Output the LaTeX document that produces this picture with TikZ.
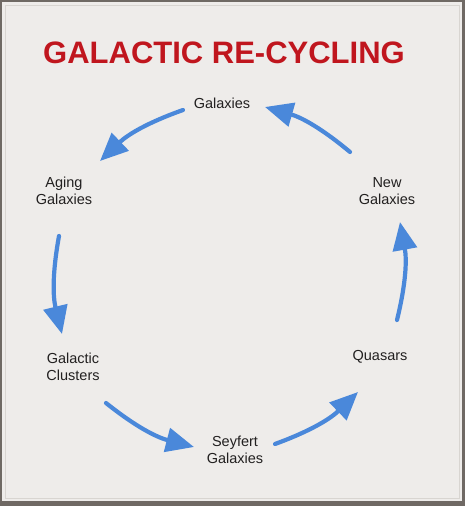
\documentclass[tikz,border=0pt]{standalone}
\usepackage{fontspec}
\setmainfont{Liberation Sans}
\usetikzlibrary{arrows.meta}
\definecolor{framegray}{HTML}{6F6964}
\definecolor{bggray}{HTML}{EEECEA}
\definecolor{innerline}{HTML}{D8D5D1}
\definecolor{titlered}{HTML}{C0161E}
\definecolor{arrowblue}{HTML}{4A88DA}
\definecolor{labeltext}{HTML}{222020}
\tikzset{
  lbl/.style={align=center, font=\fontsize{14.5}{16.5}\selectfont, text=labeltext, inner sep=1pt},
  cyc/.style={draw=arrowblue, line width=4.2pt, line cap=round,
    -{Triangle[length=28pt,width=24pt,fill=arrowblue]}, bend right=12},
}
\begin{document}
\begin{tikzpicture}[x=1pt,y=-1pt]
\fill[framegray] (0,0) rectangle (465,506);
\fill[bggray] (2,2) rectangle (462,501);
\draw[innerline, line width=0.8pt] (5,5) rectangle (459,498);
\useasboundingbox (0,0) rectangle (465,506);

\node[font=\fontsize{31}{34}\selectfont\bfseries, text=titlered] (title) at (224,53) {GALACTIC RE-CYCLING};

\node[lbl] (gal) at (222,103) {Galaxies};
\node[lbl] (aging) at (64,191) {Aging\\Galaxies};
\node[lbl] (new) at (387,191) {New\\Galaxies};
\node[lbl] (clus) at (73,367) {Galactic\\Clusters};
\node[lbl] (quas) at (380,357) {Quasars};
\node[lbl] (sey) at (235,450) {Seyfert\\Galaxies};

\coordinate (a1s) at (183,110); \coordinate (a1e) at (100,161);
\coordinate (a2s) at (59,236);  \coordinate (a2e) at (62,334);
\coordinate (a3s) at (106,403); \coordinate (a3e) at (194,447);
\coordinate (a4s) at (275,444); \coordinate (a4e) at (358,392);
\coordinate (a5s) at (397,320); \coordinate (a5e) at (400,222);
\coordinate (a6s) at (350,152); \coordinate (a6e) at (265,107);

\draw[cyc] (a1s) to (a1e);
\draw[cyc] (a2s) to (a2e);
\draw[cyc] (a3s) to (a3e);
\draw[cyc] (a4s) to (a4e);
\draw[cyc] (a5s) to (a5e);
\draw[cyc] (a6s) to (a6e);
\end{tikzpicture}
\end{document}
